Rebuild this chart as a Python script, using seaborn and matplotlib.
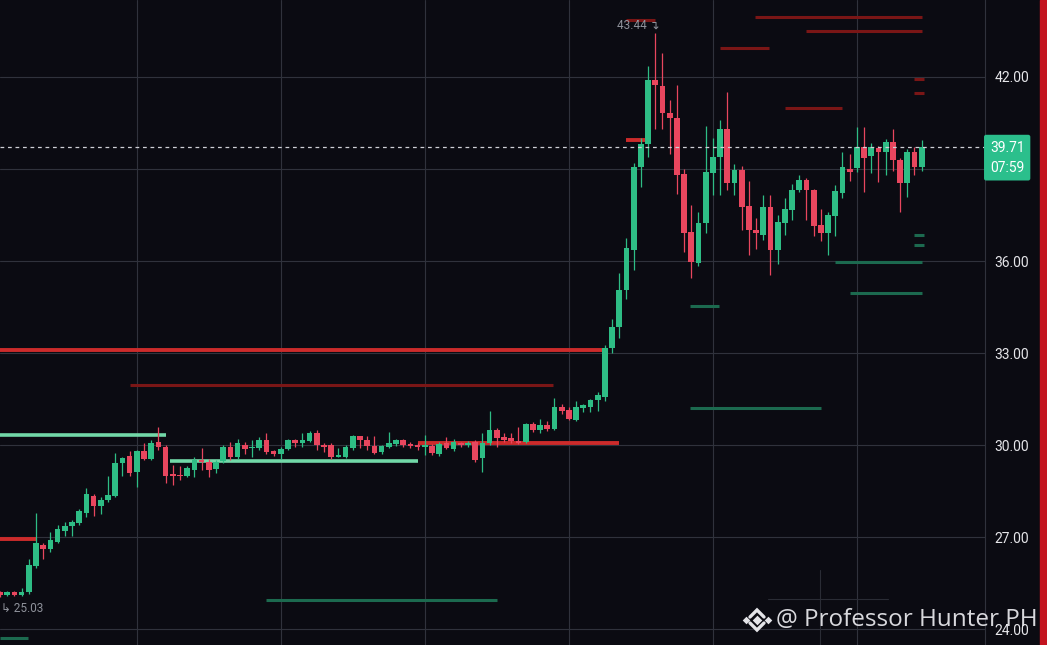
import numpy as np
import pandas as pd
import matplotlib
matplotlib.use("Agg")
import matplotlib.pyplot as plt
import matplotlib.transforms as mtransforms
import seaborn as sns

# Candles, one per bar from left to right (price in USDT)
opens = [25.20, 25.12, 25.20, 25.12, 25.20, 26.05, 26.75, 26.60, 26.85, 27.20,
         27.35, 27.45, 27.80, 28.35, 28.00, 28.20, 28.35, 29.42, 29.65, 29.12,
         29.80, 29.55, 30.10, 29.93, 29.05, 29.02, 29.00, 29.18, 29.50, 29.45,
         29.22, 29.48, 29.94, 29.60, 30.00, 29.90, 29.90, 30.16, 29.80, 29.72,
         29.88, 30.16, 30.05, 30.14, 30.38, 30.00, 30.00, 29.62, 29.62, 29.90,
         30.28, 30.18, 29.98, 29.78, 29.95, 30.02, 30.16, 30.02, 29.98, 29.95,
         29.98, 29.70, 30.05, 29.88, 30.05, 30.00, 30.10, 29.58, 30.06, 30.48,
         30.25, 30.22, 30.12, 30.10, 30.68, 30.50, 30.65, 30.52, 31.25, 31.14,
         30.82, 31.22, 31.24, 31.47, 31.57, 33.16, 33.85, 35.05, 36.36, 39.07,
         39.82, 41.90, 41.70, 40.83, 40.66, 38.84, 36.94, 35.93, 37.24, 38.87,
         39.40, 40.30, 38.54, 38.97, 37.80, 37.02, 36.85, 37.76, 36.36, 37.24,
         37.66, 38.32, 38.64, 38.30, 37.16, 36.91, 37.47, 38.22, 39.00, 39.03,
         39.72, 39.42, 39.68, 39.55, 39.87, 39.30, 38.54, 39.55, 39.08]
highs = [25.25, 25.25, 25.25, 25.35, 26.30, 27.80, 26.80, 27.15, 27.40, 27.50,
         27.55, 27.90, 28.60, 28.40, 28.30, 29.00, 29.75, 29.62, 29.80, 29.85,
         30.06, 30.15, 30.60, 30.00, 29.35, 29.30, 29.30, 29.60, 29.90, 29.55,
         29.50, 30.00, 30.10, 30.20, 30.10, 30.15, 30.25, 30.40, 29.85, 29.95,
         30.20, 30.20, 30.40, 30.45, 30.50, 30.05, 30.05, 29.90, 30.00, 30.32,
         30.30, 30.30, 30.30, 30.00, 30.43, 30.20, 30.20, 30.10, 30.05, 30.33,
         30.02, 30.10, 30.25, 30.20, 30.10, 30.12, 30.15, 30.40, 31.10, 30.55,
         30.40, 30.40, 30.60, 30.72, 30.75, 30.86, 30.78, 31.53, 31.35, 31.25,
         31.42, 31.35, 31.50, 31.74, 33.26, 34.10, 35.60, 36.75, 39.20, 40.00,
         42.36, 43.44, 42.77, 41.25, 41.74, 39.00, 37.83, 37.60, 40.40, 40.00,
         40.60, 41.50, 39.15, 39.10, 38.60, 37.40, 38.15, 38.15, 37.50, 38.05,
         38.50, 38.80, 38.70, 38.35, 37.70, 37.60, 38.48, 39.55, 39.50, 40.37,
         40.37, 39.85, 39.75, 39.98, 40.30, 39.35, 39.65, 39.72, 39.95]
lows = [25.03, 25.08, 25.08, 25.08, 25.15, 26.00, 26.30, 26.50, 26.80, 27.05,
        27.05, 27.40, 27.65, 27.70, 27.75, 28.15, 28.30, 29.00, 29.00, 28.63,
        29.50, 29.50, 29.85, 28.75, 28.70, 28.85, 28.95, 28.97, 29.20, 28.97,
        29.10, 29.40, 29.50, 29.55, 29.70, 29.60, 29.85, 29.70, 29.65, 29.55,
        29.85, 29.95, 29.95, 30.10, 29.85, 29.78, 29.55, 29.60, 29.58, 29.85,
        29.90, 29.85, 29.70, 29.72, 29.90, 29.98, 29.95, 29.90, 29.85, 29.67,
        29.68, 29.65, 29.88, 29.80, 29.95, 29.95, 29.45, 29.12, 30.00, 29.95,
        30.10, 30.08, 30.02, 30.05, 30.42, 30.40, 30.45, 30.48, 31.00, 30.80,
        30.78, 31.08, 31.08, 31.10, 31.45, 33.00, 33.50, 34.75, 35.70, 38.40,
        39.40, 40.30, 40.30, 39.50, 38.20, 36.30, 35.45, 35.85, 36.90, 38.15,
        38.15, 38.30, 38.15, 37.00, 36.20, 36.40, 36.70, 35.55, 35.90, 36.85,
        37.35, 38.25, 37.35, 36.80, 36.65, 36.20, 36.80, 38.06, 38.60, 38.90,
        38.25, 38.87, 38.58, 38.80, 38.95, 37.60, 38.10, 38.80, 38.95]
closes = [25.12, 25.20, 25.12, 25.22, 26.10, 26.80, 26.60, 26.90, 27.25, 27.35,
          27.48, 27.85, 28.40, 28.00, 28.20, 28.38, 29.40, 29.58, 29.10, 29.80,
          29.55, 30.07, 29.92, 29.00, 29.00, 28.98, 29.25, 29.50, 29.45, 29.20,
          29.44, 29.94, 29.62, 30.06, 29.88, 29.95, 30.18, 29.78, 29.72, 29.88,
          30.16, 30.08, 30.15, 30.40, 30.00, 29.95, 29.62, 29.66, 29.94, 30.28,
          30.18, 29.96, 29.75, 29.96, 30.05, 30.16, 30.00, 29.96, 29.94, 30.00,
          29.75, 30.03, 29.90, 30.10, 30.00, 30.08, 29.52, 30.05, 30.50, 30.22,
          30.18, 30.12, 30.05, 30.68, 30.50, 30.64, 30.52, 31.24, 31.12, 30.84,
          31.24, 31.32, 31.47, 31.63, 33.16, 33.85, 35.05, 36.42, 39.07, 39.82,
          41.90, 41.75, 40.83, 40.67, 38.80, 36.91, 35.97, 37.24, 38.90, 39.40,
          40.30, 38.55, 38.97, 37.77, 37.00, 36.90, 37.76, 36.36, 37.27, 37.70,
          38.32, 38.64, 38.30, 37.14, 36.90, 37.50, 38.28, 39.07, 38.90, 39.72,
          39.37, 39.72, 39.56, 39.87, 39.30, 38.55, 39.55, 39.08, 39.71]

# Support / resistance levels: price, first bar, last bar, kind
level_price = [33.10, 31.96, 30.05, 26.94, 43.96, 43.50, 42.95, 40.98, 43.86, 39.95, 41.93, 41.48,
               30.32, 29.48, 24.95, 23.71, 34.53, 31.21, 35.97, 34.96, 36.85, 36.52]
level_start = [0, 18, 58, 0, 104.9, 112, 100, 109, 87, 87, 127, 127,
               0, 23.6, 37, 0, 95.8, 95.8, 116, 118, 127, 127]
level_end = [84, 76.8, 86, 5.1, 128, 128, 106.8, 117, 91, 90, 128.3, 128.3,
             23, 58, 69, 3.9, 99.9, 114, 128, 128, 128.3, 128.3]
level_kind = ["red", "darkred", "red", "red", "darkred", "darkred", "darkred", "darkred",
              "darkred", "red", "darkred", "darkred",
              "mint", "mint", "darkgreen", "darkgreen", "darkgreen", "darkgreen",
              "darkgreen", "darkgreen", "darkgreen", "darkgreen"]

price_ticks = [24, 27, 30, 33, 36, 39, 42]
countdown = "07:59"
watermark = "@ Professor Hunter PH"

BG = "#0b0b12"
GRID = "#30323c"
UP = "#2ebd85"
DOWN = "#e8465e"
LEVEL_STYLE = {
    "red": ("#cc2b2b", 2.8),
    "darkred": ("#7a1616", 2.2),
    "mint": ("#72d8a8", 2.6),
    "darkgreen": ("#1c6a4f", 2.2),
}


def main():
    sns.set_theme(style="dark", rc={
        "axes.facecolor": BG,
        "figure.facecolor": BG,
        "grid.color": GRID,
        "grid.linewidth": 0.8,
    })
    plt.rcParams["font.family"] = ["Roboto", "DejaVu Sans"]

    df = pd.DataFrame({"open": opens, "high": highs, "low": lows, "close": closes})
    df["bar"] = np.arange(len(df))
    df["up"] = df["close"] >= df["open"]
    df["color"] = np.where(df["up"], UP, DOWN)
    df["body_lo"] = df[["open", "close"]].min(axis=1)
    df["body_h"] = (df["close"] - df["open"]).abs().clip(lower=0.05)

    fig = plt.figure(figsize=(10.47, 6.45), dpi=100)
    ax = fig.add_axes([0, 0, 985 / 1047, 1])

    # grid
    ax.set_xlim(0, 136.8)
    ax.set_ylim(23.48, 44.51)
    ax.set_xticks([19, 39, 59, 79, 99, 119])
    ax.set_xticklabels([])
    ax.set_yticks(price_ticks)
    ax.set_yticklabels(["" if p == 39 else f"{p:.2f}" for p in price_ticks])
    ax.yaxis.tick_right()
    ax.tick_params(axis="both", length=0)
    ax.tick_params(axis="y", pad=7, labelsize=10, labelcolor="#e6e6ea")
    ax.grid(True, color=GRID, linewidth=0.8)
    for side in ["top", "left", "bottom"]:
        ax.spines[side].set_visible(False)
    ax.spines["right"].set_color(GRID)
    ax.spines["right"].set_linewidth(0.8)

    # levels
    for p, s, e, k in zip(level_price, level_start, level_end, level_kind):
        col, lw = LEVEL_STYLE[k]
        ax.hlines(p, s, e, color=col, linewidth=lw, zorder=2)

    # candles
    ax.vlines(df["bar"], df["low"], df["high"], color=df["color"], linewidth=0.9, zorder=3)
    ax.bar(df["bar"], df["body_h"], bottom=df["body_lo"], width=0.8,
           color=df["color"], linewidth=0, zorder=4)

    # last price line and tag
    last = df["close"].iloc[-1]
    ax.axhline(last, color="#cfd0d6", linewidth=0.9, linestyle=(0, (3, 3)), zorder=5)
    trans = mtransforms.blended_transform_factory(ax.transAxes, ax.transData)
    ax.annotate(f"{last:.2f}\n{countdown}", xy=(1.0, last), xycoords=trans,
                xytext=(3.5, -7.5), textcoords="offset points", ha="left", va="center",
                fontsize=10, color="white", linespacing=1.55, annotation_clip=False,
                bbox=dict(boxstyle="round,pad=0.42,rounding_size=0.15", fc="#2bbf8c", ec="none"),
                zorder=10)

    # high / low labels
    hi = df["high"].idxmax()
    ax.annotate(f"{df['high'][hi]:.2f} \u21b4", xy=(hi, df["high"][hi]), xytext=(3, 1),
                textcoords="offset points", ha="right", va="bottom", fontsize=8.5,
                color="#8f929b", zorder=6)
    lo = df["low"].idxmin()
    ax.annotate(f"\u21b3 {df['low'][lo]:.2f}", xy=(lo, df["low"][lo]), xytext=(1, -3),
                textcoords="offset points", ha="left", va="top", fontsize=8.5,
                color="#8f929b", zorder=6)

    # overlay in pixel space for watermark and the red edge strip
    ov = fig.add_axes([0, 0, 1, 1], facecolor="none")
    ov.set_xlim(0, 1047)
    ov.set_ylim(645, 0)
    ov.axis("off")
    ov.add_patch(plt.Rectangle((1040, 0), 7, 645, color="#c3141f", zorder=1))
    ov.plot([820, 820], [570, 645], color="#2a2c35", linewidth=0.8)
    ov.plot([768, 888], [599, 599], color="#2a2c35", linewidth=0.8)

    wm = "#e4e4e8"
    lx, ly = 757, 620
    ov.scatter([lx], [ly], marker="D", s=24, color=wm, linewidths=0)
    ov.scatter([lx - 11, lx + 11], [ly, ly], marker="D", s=15, color=wm, linewidths=0)
    ov.plot([lx - 7, lx, lx + 7], [ly - 3, ly - 10, ly - 3], color=wm, linewidth=2.4,
            solid_joinstyle="miter")
    ov.plot([lx - 7, lx, lx + 7], [ly + 3, ly + 10, ly + 3], color=wm, linewidth=2.4,
            solid_joinstyle="miter")
    ov.text(776, ly, watermark, fontsize=17.5, color=wm, va="center", ha="left",
            family=["Open Sans", "DejaVu Sans"], alpha=0.95)

    fig.savefig("out.png", dpi=100, facecolor=BG)
    plt.close(fig)


if __name__ == "__main__":
    main()
